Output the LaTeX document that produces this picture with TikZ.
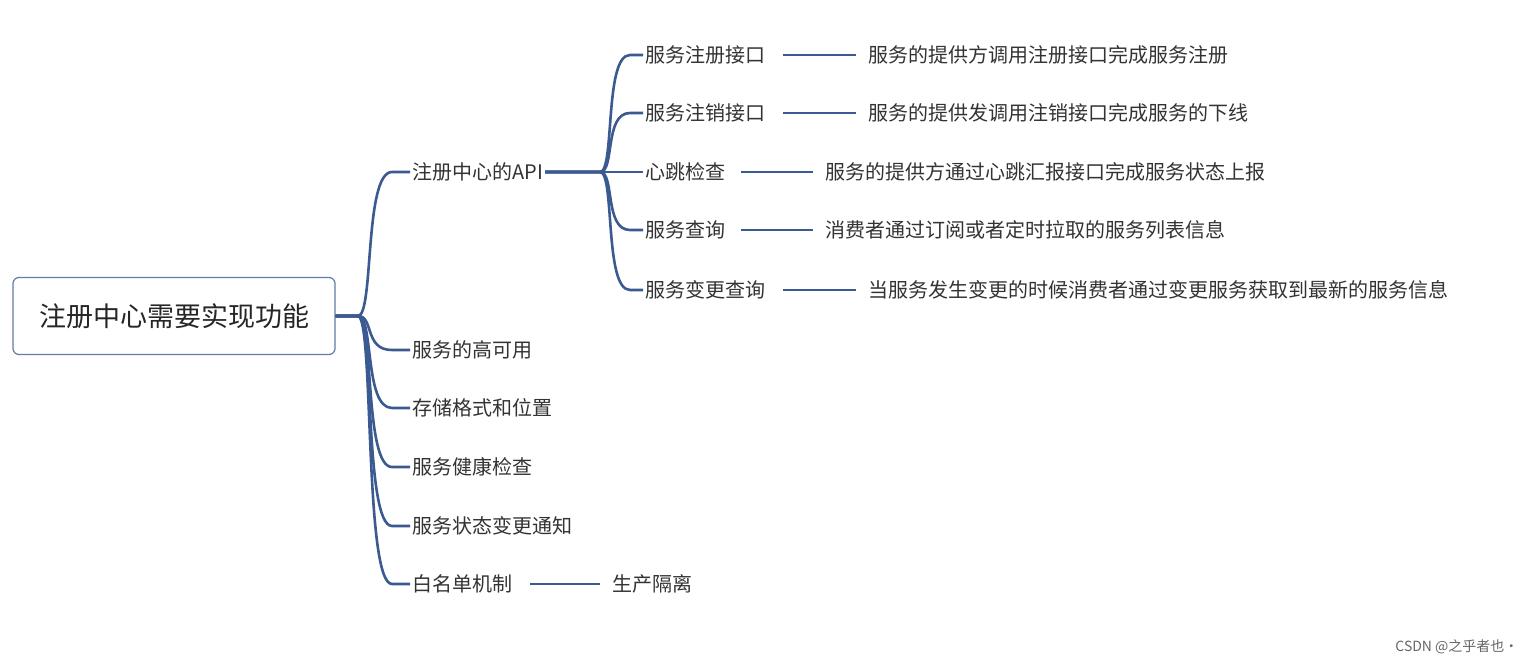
\documentclass[tikz,border=0pt]{standalone}
\usepackage{fontspec}
\setmainfont{Noto Sans CJK SC}
\begin{document}
\begin{tikzpicture}[x=1pt,y=-1pt,
  br/.style={draw=lc,line width=2.6pt},
  lbl/.style={anchor=west,inner sep=2pt,font=\fontsize{20}{22}\selectfont,text=black!80},
  desc/.style={lbl}]
\definecolor{lc}{HTML}{3B5A92}
\useasboundingbox[fill=white] (0,0) rectangle (1536,666);
\node[draw=lc!80,line width=1.2pt,rounded corners=6pt,minimum width=322pt,minimum height=77pt,font=\fontsize{27}{30}\selectfont,text=black!85] (root) at (174,316) {注册中心需要实现功能};
\foreach \n/\y/\t in {api/172/注册中心的API,ha/350/服务的高可用,st/408/存储格式和位置,hc/467/服务健康检查,sn/526/服务状态变更通知,wl/584/白名单机制}{
  \node[lbl] (\n) at (410,\y) {\t};
  \draw[br] (root.east) -- (358,316) .. controls (374,316) and (364,\y) .. (392,\y) -- (\n.west);
}
\foreach \n/\y/\t in {a1/55/服务注册接口,a2/113/服务注销接口,a3/172/心跳检查,a4/230/服务查询,a5/290/服务变更查询}{
  \node[lbl] (\n) at (643,\y) {\t};
  \draw[br] (api.east) -- (600,172) .. controls (615,172) and (604,\y) .. (630,\y) -- (\n.west);
}
\node[desc] (d1) at (866,55) {服务的提供方调用注册接口完成服务注册};
\node[desc] (d2) at (866,113) {服务的提供发调用注销接口完成服务的下线};
\node[desc] (d3) at (823,172) {服务的提供方通过心跳汇报接口完成服务状态上报};
\node[desc] (d4) at (823,230) {消费者通过订阅或者定时拉取的服务列表信息};
\node[desc] (d5) at (866,290) {当服务发生变更的时候消费者通过变更服务获取到最新的服务信息};
\node[desc] (d6) at (610,584) {生产隔离};
\draw[br] ([xshift=16pt]a1.east) -- ([xshift=-10pt]d1.west);
\draw[br] ([xshift=16pt]a2.east) -- ([xshift=-10pt]d2.west);
\draw[br] ([xshift=14pt]a3.east) -- ([xshift=-10pt]d3.west);
\draw[br] ([xshift=14pt]a4.east) -- ([xshift=-10pt]d4.west);
\draw[br] ([xshift=16pt]a5.east) -- ([xshift=-10pt]d5.west);
\draw[br] ([xshift=16pt]wl.east) -- ([xshift=-10pt]d6.west);
\node[anchor=east,font=\fontsize{14}{16}\selectfont,text=black!60] (wm) at (1522,647) {CSDN @之乎者也·};
\end{tikzpicture}
\end{document}
